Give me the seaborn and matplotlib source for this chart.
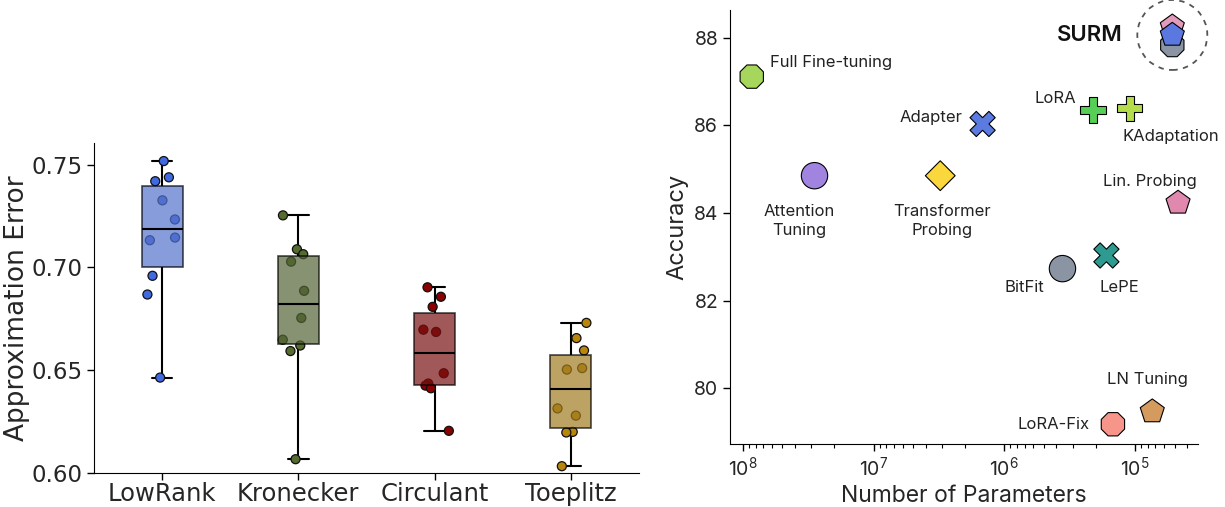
import numpy as np
import pandas as pd
import seaborn as sns
import matplotlib.pyplot as plt

# ---- left panel: approximation error per structure ----
methods = ["LowRank", "Kronecker", "Circulant", "Toeplitz"]
lowrank_err = [0.7517, 0.7438, 0.7419, 0.7326, 0.7233, 0.7145, 0.7132, 0.6959, 0.6868, 0.6464]
kronecker_err = [0.7253, 0.7088, 0.7064, 0.7028, 0.6886, 0.6754, 0.6648, 0.6620, 0.6593, 0.6067]
circulant_err = [0.6903, 0.6857, 0.6808, 0.6697, 0.6686, 0.6485, 0.6435, 0.6425, 0.6412, 0.6205]
toeplitz_err = [0.6730, 0.6656, 0.6596, 0.6510, 0.6503, 0.6314, 0.6279, 0.6200, 0.6197, 0.6033]

# ---- right panel: accuracy vs. number of parameters ----
method_names = ["Full Fine-tuning", "Attention Tuning", "Transformer Probing", "Adapter", "LoRA",
                "KAdaptation", "Lin. Probing", "BitFit", "LePE", "LoRA-Fix", "LN Tuning"]
method_labels = ["Full Fine-tuning", "Attention\nTuning", "Transformer\nProbing", "Adapter", "LoRA",
                 "KAdaptation", "Lin. Probing", "BitFit", "LePE", "LoRA-Fix", "LN Tuning"]
num_params = [85.8e6, 28.4e6, 3.1e6, 1.47e6, 0.21e6, 0.11e6, 47e3, 0.36e6, 0.166e6, 0.148e6, 74e3]
accuracy = [87.11, 84.85, 84.85, 86.03, 86.35, 86.39, 84.23, 82.73, 83.03, 79.18, 79.47]
surm_names = ["SURM (a)", "SURM (b)", "SURM (c)"]
surm_params = [52e3, 52e3, 52e3]
surm_acc = [87.83, 88.25, 88.06]

# styles
point_colors = {"LowRank": "#4169e1", "Kronecker": "#556b2f", "Circulant": "#8b0000", "Toeplitz": "#b8860b"}
markers = {"Full Fine-tuning": "8", "Attention Tuning": "o", "Transformer Probing": "D", "Adapter": "X",
           "LoRA": "P", "KAdaptation": "P", "Lin. Probing": "p", "BitFit": "o", "LePE": "X",
           "LoRA-Fix": "8", "LN Tuning": "p", "SURM (a)": "8", "SURM (b)": "p", "SURM (c)": "p"}
colors = {"Full Fine-tuning": "#a6d65c", "Attention Tuning": "#a084e0", "Transformer Probing": "#fad73c",
          "Adapter": "#5b7be0", "LoRA": "#57cf57", "KAdaptation": "#b5dc4a", "Lin. Probing": "#e088ae",
          "BitFit": "#8a94a3", "LePE": "#2e9a90", "LoRA-Fix": "#f8958a", "LN Tuning": "#d49a5e",
          "SURM (a)": "#8a94a3", "SURM (b)": "#e29bba", "SURM (c)": "#5a78e0"}
marker_sizes = {k: 330 for k in markers}
marker_sizes["Transformer Probing"] = 230
marker_sizes["Attention Tuning"] = 360
marker_sizes["BitFit"] = 360
# label offsets in pixels (dx, dy, ha)
label_offsets = [(18, 14, "left"), (-15, -45, "center"), (2, -45, "center"), (-20, 6, "right"),
                 (-17, 11, "right"), (-7, -28, "left"), (-28, 21, "center"), (-38, -19, "center"),
                 (13, -32, "center"), (-23, 0, "right"), (-5, 32, "center")]

sns.set_style("ticks")
plt.rcParams["font.family"] = ["Inter", "DejaVu Sans"]
plt.rcParams["mathtext.fontset"] = "dejavusans"

fig = plt.figure(figsize=(12.25, 5.07), dpi=100)
ax1 = fig.add_axes([0.0767, 0.0671, 0.4449, 0.6509])
ax2 = fig.add_axes([0.5959, 0.1243, 0.3820, 0.8560])

err_df = pd.DataFrame({
    "method": sum([[m] * 10 for m in methods], []),
    "error": lowrank_err + kronecker_err + circulant_err + toeplitz_err,
})

np.random.seed(3)
sns.stripplot(data=err_df, x="method", y="error", hue="method", palette=point_colors, order=methods,
              size=6.5, jitter=0.12, linewidth=0.9, edgecolor="#111111", legend=False, zorder=2, ax=ax1)
sns.boxplot(data=err_df, x="method", y="error", hue="method", palette=point_colors, order=methods,
            width=0.3, showfliers=False, legend=False, linecolor="black", linewidth=1.5,
            boxprops=dict(alpha=0.7, zorder=3, linewidth=1.2),
            whiskerprops=dict(color="black", linewidth=1.5, zorder=1),
            capprops=dict(color="black", linewidth=1.5, zorder=1),
            medianprops=dict(color="black", linewidth=1.5, zorder=4),
            ax=ax1)
ax1.set_xlim(-0.5, 3.5)
ax1.set_ylim(0.60, 0.7605)
ax1.set_yticks([0.60, 0.65, 0.70, 0.75])
ax1.set_yticklabels(["0.60", "0.65", "0.70", "0.75"])
ax1.set_xlabel("")
ax1.set_ylabel("Approximation Error", fontsize=19, family="DejaVu Sans", labelpad=1)
for lab in ax1.get_xticklabels():
    lab.set_family("DejaVu Sans")
    lab.set_fontsize(17.5)
for lab in ax1.get_yticklabels():
    lab.set_family("DejaVu Sans")
    lab.set_fontsize(16.5)
ax1.tick_params(length=5, width=1, color="black")
ax1.tick_params(axis="x", pad=1.5)
sns.despine(ax=ax1)
for sp in ax1.spines.values():
    sp.set_color("black")

# right panel
acc_df = pd.DataFrame({
    "name": method_names + surm_names,
    "params": num_params + surm_params,
    "acc": accuracy + surm_acc,
})
sns.scatterplot(data=acc_df, x="params", y="acc", hue="name", style="name", size="name",
                markers=markers, palette=colors, sizes=marker_sizes, edgecolor="black", linewidth=0.8,
                legend=False, ax=ax2, zorder=3, clip_on=False)
ax2.scatter([surm_params[2]], [surm_acc[2]], s=2540, facecolors="none", edgecolors="#555555",
            linewidths=1.3, linestyles=(0, (3, 3)), zorder=2, clip_on=False)

for name, label, x, y, (dx, dy, ha) in zip(method_names, method_labels, num_params, accuracy, label_offsets):
    ax2.annotate(label, (x, y), xytext=(dx, dy), textcoords="offset pixels", ha=ha, va="center",
                 fontsize=12, color="#222222", linespacing=1.35, annotation_clip=False)
ax2.annotate("SURM", (surm_params[2], surm_acc[2]), xytext=(-50, 0), textcoords="offset pixels",
             ha="right", va="center", fontsize=16, fontweight="semibold", color="#111111")

ax2.set_xscale("log")
ax2.set_xlim(10 ** 8.10, 10 ** 4.52)
ax2.set_ylim(78.73, 88.63)
ax2.set_yticks([80, 82, 84, 86, 88])
ax2.set_xticks([1e8, 1e7, 1e6, 1e5])
ax2.set_xlabel("Number of Parameters", fontsize=16.5)
ax2.set_ylabel("Accuracy", fontsize=17)
ax2.tick_params(axis="both", which="major", labelsize=14, length=5, width=1, color="black")
ax2.tick_params(axis="x", which="minor", length=3, width=0.8, color="black")
sns.despine(ax=ax2)
for sp in ax2.spines.values():
    sp.set_color("black")

fig.savefig("out.png", dpi=100)
